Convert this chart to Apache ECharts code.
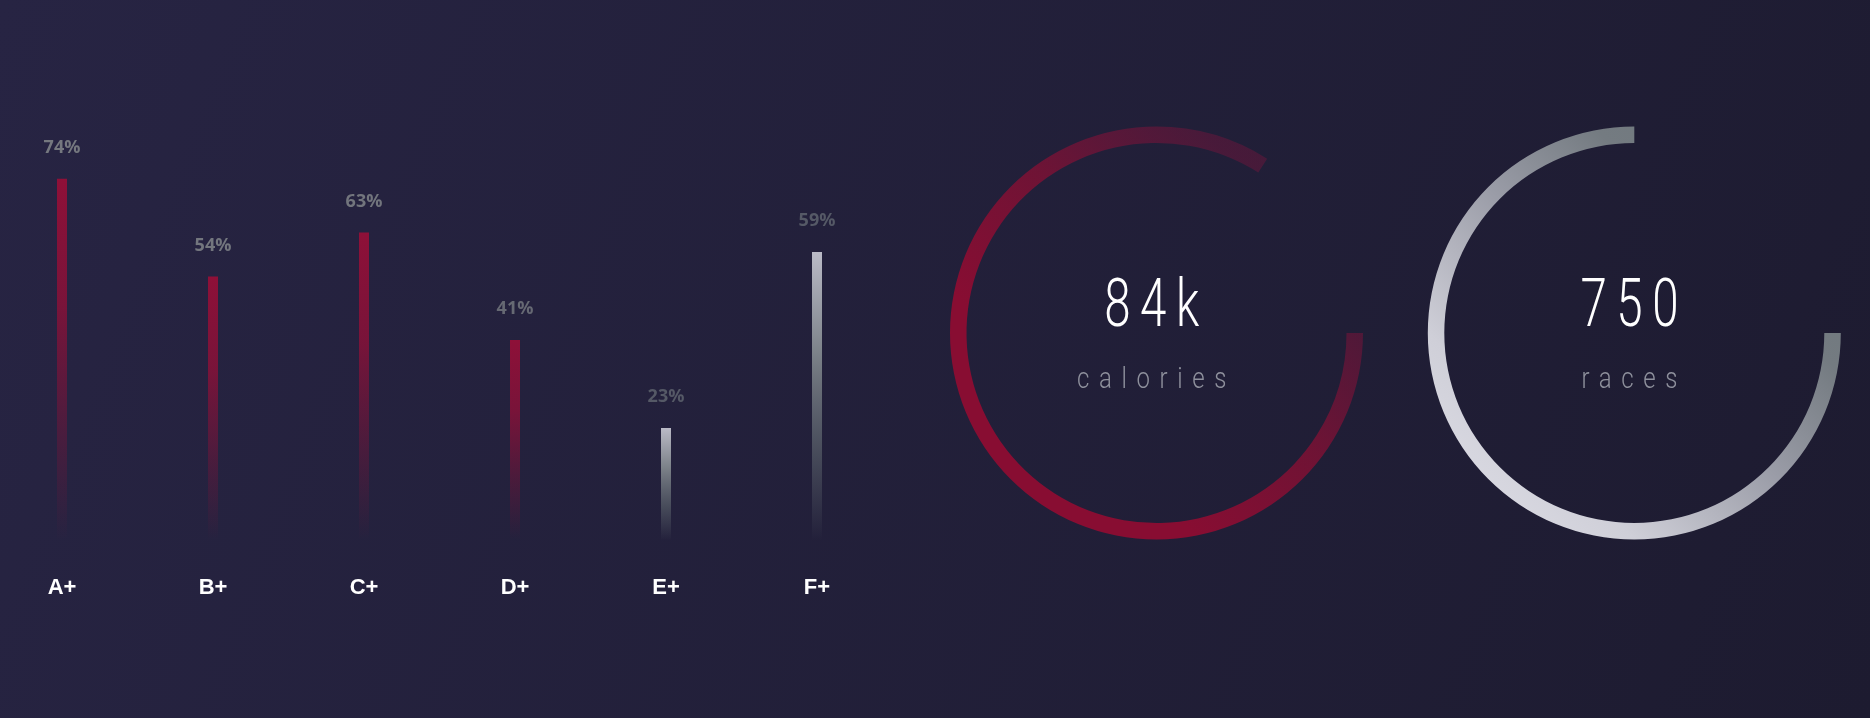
<!DOCTYPE html>
<html>
<head>
<meta charset="utf-8">
<script src="https://cdn.jsdelivr.net/npm/echarts@6/dist/echarts.min.js"></script>
<style>
  html, body { margin: 0; padding: 0; background: #221f3a; }
  #wrap { position: relative; width: 1870px; height: 718px; }
  #chart, #captions { position: absolute; left: 0; top: 0; width: 1870px; height: 718px; }
  #captions { pointer-events: none; }
</style>
</head>
<body>
<div id="wrap">
  <div id="chart"></div>
  <div id="captions"></div>
</div>
<script>
// ---------- data ----------
const categories = ['A+', 'B+', 'C+', 'D+', 'E+', 'F+'];
const percentValues = [74, 54, 63, 41, 23, 59];
const ringLabels = ['calories', 'races'];
const ringValues = [84000, 750];
const ringTargets = [100000, 1000];
const ringTexts = ['84k', '750'];

const capEl = document.getElementById('captions');

// ---------- letter spacing, only on the captions canvas ----------
(function () {
  const proto = CanvasRenderingContext2D.prototype;
  const orig = proto.fillText;
  proto.fillText = function () {
    const c = this.canvas;
    if (c && capEl.contains(c) && 'letterSpacing' in this) {
      const m = /(\d+(?:\.\d+)?)px/.exec(this.font || '');
      const size = m ? parseFloat(m[1]) : 0;
      this.letterSpacing = (size > 45 ? size * 0.2 : size * 0.4) + 'px';
    }
    return orig.apply(this, arguments);
  };
})();

const LG = echarts.graphic.LinearGradient;
function barFill(i) {
  if (i < 4) {
    return new LG(0, 0, 0, 1, [
      { offset: 0, color: 'rgba(142,16,56,1)' },
      { offset: 0.35, color: 'rgba(142,16,56,0.8)' },
      { offset: 0.7, color: 'rgba(142,16,56,0.35)' },
      { offset: 1, color: 'rgba(142,16,56,0)' }
    ]);
  }
  return new LG(0, 0, 0, 1, [
    { offset: 0, color: 'rgba(186,186,198,1)' },
    { offset: 0.35, color: 'rgba(124,130,137,1)' },
    { offset: 0.7, color: 'rgba(80,86,98,0.8)' },
    { offset: 1, color: 'rgba(80,86,98,0)' }
  ]);
}
const labelColors = ['#75787f', '#73767e', '#72757d', '#666973', '#555966', '#555966'];

const ringFills = [
  new LG(0, 1, 1, 0, [
    { offset: 0, color: 'rgba(136,13,50,1)' },
    { offset: 0.3, color: 'rgba(136,13,50,1)' },
    { offset: 0.55, color: 'rgba(130,16,52,0.8)' },
    { offset: 0.8, color: 'rgba(120,20,60,0.45)' },
    { offset: 1, color: 'rgba(120,20,60,0.3)' }
  ]),
  new LG(0, 1, 1, 0, [
    { offset: 0, color: '#e2e2ea' },
    { offset: 0.25, color: '#cfcfd8' },
    { offset: 0.5, color: '#9a9ca7' },
    { offset: 0.7, color: '#747b81' },
    { offset: 1, color: '#6b757a' }
  ])
];
const ringCenters = [[1156.5, 333], [1634.3, 333]];

const ringSeries = ringValues.map(function (v, i) {
  return {
    type: 'pie',
    silent: true,
    center: ringCenters[i],
    radius: [190, 206.5],
    startAngle: 0,
    clockwise: true,
    label: { show: false },
    labelLine: { show: false },
    itemStyle: { borderWidth: 0 },
    data: [
      { name: ringLabels[i], value: v, itemStyle: { color: ringFills[i] } },
      { name: 'rest', value: ringTargets[i] - v, itemStyle: { color: 'rgba(0,0,0,0)' } }
    ]
  };
});

const ringGraphics = [];
ringTexts.forEach(function (t, i) {
  ringGraphics.push({
    type: 'text', x: ringCenters[i][0], y: 309, scaleX: 0.72, silent: true,
    style: { text: t, fill: '#ffffff', font: '300 66px Roboto', align: 'center', verticalAlign: 'middle' }
  });
  ringGraphics.push({
    type: 'text', x: ringCenters[i][0], y: 380, scaleX: 0.8, silent: true,
    style: { text: ringLabels[i], fill: '#8e909c', font: '300 30px Roboto', align: 'center', verticalAlign: 'middle' }
  });
});

const chart = echarts.init(document.getElementById('chart'));
chart.setOption({
  animation: false,
  backgroundColor: new LG(0, 0, 1, 1, [
    { offset: 0, color: '#272443' },
    { offset: 1, color: '#1d1b30' }
  ]),
  grid: { left: 62, right: 1053, top: 51.5, bottom: 177.5 },
  xAxis: {
    type: 'category',
    data: categories,
    boundaryGap: false,
    axisLine: { show: false },
    axisTick: { show: false },
    splitLine: { show: false },
    axisLabel: {
      color: '#ffffff', fontSize: 22, fontWeight: 'bold',
      fontFamily: 'Liberation Sans, Arial, sans-serif', margin: 36
    }
  },
  yAxis: {
    type: 'value', min: 0, max: 100, show: false,
    splitLine: { show: false }
  },
  series: [
    {
      type: 'bar',
      barWidth: 10,
      silent: true,
      data: percentValues.map(function (v, i) {
        return {
          value: v,
          itemStyle: { color: barFill(i) },
          label: { color: labelColors[i] }
        };
      }),
      label: {
        show: true,
        position: 'top',
        distance: 22,
        formatter: '{c}%',
        fontSize: 18,
        fontWeight: 'bold',
        fontFamily: 'Open Sans, Liberation Sans, sans-serif'
      }
    }
  ].concat(ringSeries)
});

const captions = echarts.init(capEl);
captions.setOption({
  animation: false,
  backgroundColor: 'transparent',
  graphic: ringGraphics
});
</script>
</body>
</html>
